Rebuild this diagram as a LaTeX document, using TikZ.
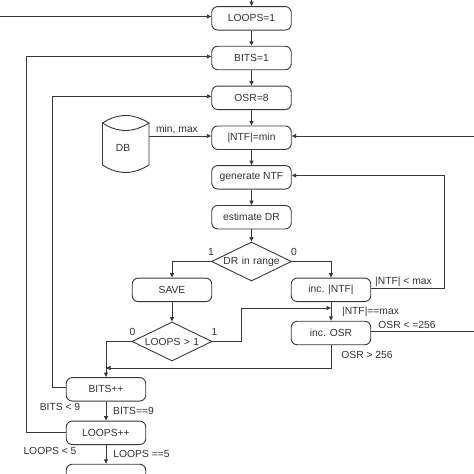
\documentclass[tikz,border=0pt]{standalone}
\usepackage{fontspec}
\setmainfont{Liberation Sans}
\usetikzlibrary{arrows.meta,shapes.geometric}
\definecolor{ink}{gray}{0.22}
\tikzset{
  x=1pt,y=-1pt,
  every node/.style={font=\fontsize{10.3}{12}\selectfont,text=ink!90!black},
  box/.style={draw=ink,line width=0.9pt,rounded corners=6pt,minimum width=79.5pt,minimum height=23.5pt,inner sep=0pt},
  dec/.style={draw=ink,line width=0.9pt,diamond,aspect=2.05,minimum width=80pt,minimum height=39pt,inner sep=0pt},
  link/.style={draw=ink,line width=0.9pt,-{Triangle[length=4.5pt,width=4pt]}},
  plainlink/.style={draw=ink,line width=0.9pt},
  lab/.style={inner sep=0pt}
}
\begin{document}
\begin{tikzpicture}
\useasboundingbox (0,0) rectangle (474,474);
\clip (0,0) rectangle (474,474);
\fill[white] (0,0) rectangle (474,474);
\node[box] (loops) at (251.5,18.3) {LOOPS=1};
\node[box] (bits) at (251.5,58) {BITS=1};
\node[box] (osr) at (251.5,97.8) {OSR=8};
\node[box] (ntf) at (251.5,137.7) {|NTF|=min};
\node[box] (gen) at (251.5,177.3) {generate NTF};
\node[box] (est) at (251.5,217.2) {estimate DR};
\node[dec,text width=60pt,align=center] (range) at (251.5,261.5) {DR in range};
\node[box] (save) at (172,289.8) {SAVE};
\node[box] (incntf) at (331,289.8) {inc. |NTF|};
\node[box] (incosr) at (331,333) {inc. OSR};
\node[dec,text width=60pt,align=center] (lgt) at (172,341.5) {LOOPS > 1};
\node[box] (bitspp) at (106,389.3) {BITS++};
\node[box] (looppp) at (106,432.8) {LOOPS++};
\node[box] (last) at (106,476) {};
% database
\node[minimum width=46.5pt,minimum height=58pt,inner sep=0pt] (db) at (125.7,144) {};
\draw[ink,line width=0.9pt,fill=white] (102.5,123) .. controls (110,118) and (118,115.5) .. (125.7,115.5) .. controls (133,115.5) and (141,118) .. (149,123)
  .. controls (141,128) and (133,130.5) .. (125.7,130.5) .. controls (118,130.5) and (110,128) .. (102.5,123) -- (102.5,165)
  .. controls (110,170) and (118,172.5) .. (125.7,172.5) .. controls (133,172.5) and (141,170) .. (149,165) -- (149,123);
\node (dbt) at (123,148) {DB};
% free ends
\coordinate (topin) at (251.5,0);
\coordinate (leftin) at (0,16.5);
\coordinate (rightin) at (474,136);
\coordinate (rightout) at (474,331);
% vertical flow
\draw[link] (topin) -- (loops);
\draw[link] (loops) -- (bits);
\draw[link] (bits) -- (osr);
\draw[link] (osr) -- (ntf);
\draw[link] (ntf) -- (gen);
\draw[link] (gen) -- (est);
\draw[link] (est) -- (range);
\draw[link] (incntf) -- (incosr);
\draw[link] (save) -- (lgt);
\draw[link] (bitspp) -- (looppp);
\draw[link] (looppp) -- (last);
% horizontal inputs
\draw[link] (leftin) -- (leftin -| loops.west);
\draw[link] (looppp.west) -- (26,432.8) -- (26,56.5) -- (bits.west |- 0,56.5);
\draw[link] (bitspp.west) ++(0,-1.6) -- (52.5,387.7) -- (52.5,96.3) -- (osr.west |- 0,96.3);
\draw[link] (db.east |- 0,136) -- (ntf.west |- 0,136);
\draw[link] (rightin) -- (ntf.east |- rightin);
\draw[link] (incntf.east |- 0,288) -- (444,288) -- (444,175.5) -- (gen.east |- 0,175.5);
\draw[link] (range.west) -| (save.north);
\draw[link] (range.east) -| (incntf.north);
\draw[link] (lgt.west) -| (bitspp.north);
\draw[link] (lgt.east) -- (241.5,341.5) -- (241.5,308) -- (331,308);
\draw[link] (incosr.south) -- (331,368) -- (106,368);
\draw[plainlink] (incosr.east |- rightout) -- (rightout);
% labels
\node[lab] (l1) at (177,129.5) {min, max};
\node[lab] (l2) at (211,251.5) {1};
\node[lab] (l3) at (294,251.5) {0};
\node[lab] (l4) at (403.5,281.5) {|NTF| < max};
\node[lab] (l5) at (370.5,311.5) {|NTF|==max};
\node[lab] (l6) at (407,324.5) {OSR < =256};
\node[lab] (l7) at (367,354.5) {OSR > 256};
\node[lab] (l8) at (132.5,331.5) {0};
\node[lab] (l9) at (214.5,331.5) {1};
\node[lab] (l10) at (60,407) {BITS < 9};
\node[lab] (l11) at (133.5,410.5) {BITS==9};
\node[lab] (l12) at (50,450.5) {LOOPS < 5};
\node[lab] (l13) at (141.5,453.5) {LOOPS ==5};
\end{tikzpicture}
\end{document}
